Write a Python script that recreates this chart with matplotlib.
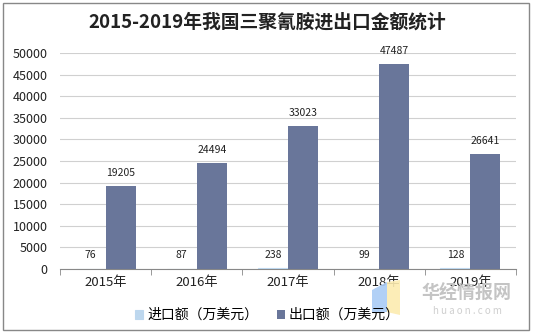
import matplotlib
matplotlib.use("Agg")
import matplotlib.pyplot as plt
import numpy as np
from matplotlib.patches import Rectangle, Polygon

plt.rcParams['font.family'] = ['Noto Sans CJK SC', 'DejaVu Sans']

years = ['2015年', '2016年', '2017年', '2018年', '2019年']
imports = [76, 87, 238, 99, 128]
exports = [19205, 24494, 33023, 47487, 26641]
yticks = [0, 5000, 10000, 15000, 20000, 25000, 30000, 35000, 40000, 45000, 50000]

W, H = 535, 336
fig = plt.figure(figsize=(W/100, H/100), dpi=100)
ax = fig.add_axes([60/W, 1-269/H, (516-60)/W, (269-53)/H])

x = np.arange(len(years))
w = 0.33
c_imp = '#BDD7EE'
c_exp = '#69769A'
ax.bar(x - w/2, imports, w, color=c_imp, edgecolor=c_imp, linewidth=0.8, label='进口额（万美元）', zorder=3)
ax.bar(x + w/2, exports, w, color=c_exp, label='出口额（万美元）', zorder=3)

for xi, v in zip(x, imports):
    ax.annotate(str(v), (xi - w/2, v), xytext=(0, 6), textcoords='offset points',
                ha='center', va='bottom', fontsize=7.5, color='#222222', annotation_clip=False)
for xi, v in zip(x, exports):
    ax.annotate(str(v), (xi + w/2, v), xytext=(0, 6), textcoords='offset points',
                ha='center', va='bottom', fontsize=7.5, color='#222222', annotation_clip=False)

ax.set_xlim(-0.5, len(years) - 0.5)
ax.set_ylim(0, 50000)
ax.set_yticks(yticks)
ax.set_yticklabels([str(t) for t in yticks], fontsize=9, color='#222222')
ax.tick_params(axis='y', length=0, pad=9)
ax.set_xticks(x)
ax.set_xticklabels(years, fontsize=9.5, color='#222222')
ax.tick_params(axis='x', length=0, pad=5)
ax.set_xticks(np.arange(-0.5, len(years)), minor=True)
ax.tick_params(axis='x', which='minor', length=4, color='#888888')
ax.grid(axis='y', color='#D0D0D0', linewidth=0.8, zorder=0)
for s in ['top', 'right', 'left']:
    ax.spines[s].set_visible(False)
ax.spines['bottom'].set_color('#888888')
ax.spines['bottom'].set_zorder(2)

fig.text(0.5, 1-22/H, '2015-2019年我国三聚氰胺进出口金额统计', ha='center', va='center',
         fontsize=13.5, fontweight='bold', color='#222222')

fig.legend(loc='center', bbox_to_anchor=(0.5, 1-315/H), ncol=2, frameon=False,
           fontsize=10, handlelength=0.6, handleheight=0.6, columnspacing=1.3, handletextpad=0.3)

# watermark
def px(pts):
    return [(a/W, 1-b/H) for a, b in pts]
fig.patches.append(Polygon(px([(372, 290), (387, 282), (387, 312), (372, 312)]), closed=True,
                           transform=fig.transFigure, facecolor='#A9CBF5', edgecolor='none', alpha=0.9))
fig.patches.append(Polygon(px([(387, 282), (400, 280), (400, 315), (387, 312)]), closed=True,
                           transform=fig.transFigure, facecolor='#FCEBB0', edgecolor='none', alpha=0.9))
fig.text(467/W, 1-293/H, '华经情报网', fontsize=13, color='#C4C4C4', fontweight='bold',
         ha='center', va='center')
fig.text(467/W, 1-311/H, 'h u a o n . c o m', fontsize=7, color='#CFCFCF', ha='center', va='center')

fig.patches.append(Rectangle((3/W, 1-330/H), 526/W, 327/H, transform=fig.transFigure,
                             fill=False, edgecolor='#888888', linewidth=1))

fig.savefig('out.png', dpi=100)
